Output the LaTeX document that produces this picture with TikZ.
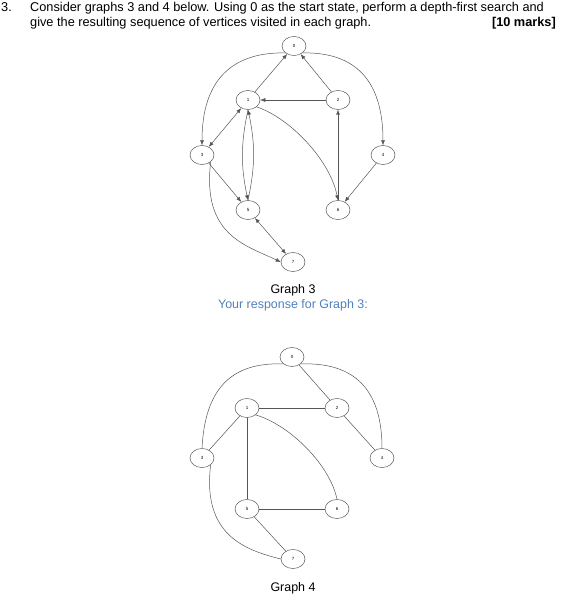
\documentclass[tikz,border=0pt]{standalone}
\usepackage{fontspec}
\setmainfont{Liberation Sans}
\usetikzlibrary{shapes.geometric,arrows.meta}
\definecolor{respblue}{RGB}{79,129,189}
\definecolor{edgegray}{RGB}{85,85,85}
\tikzset{
  vtx/.style={ellipse,draw=edgegray,line width=0.5pt,minimum width=24bp,minimum height=19bp,inner sep=0pt,font=\fontsize{4.5}{4.5}\selectfont},
  edge/.style={draw=edgegray,line width=0.5pt},
  arr/.style={edge,-{Latex[length=5bp,width=4bp]}},
  darr/.style={edge,{Latex[length=5bp,width=4bp]}-{Latex[length=5bp,width=4bp]}},
  lbl/.style={font=\fontsize{12.5}{15}\selectfont,inner sep=0pt},
  ttl/.style={font=\fontsize{12.8}{15}\selectfont,inner sep=0pt},
}
\begin{document}
\begin{tikzpicture}[x=1bp,y=-1bp]
\useasboundingbox (0,0) rectangle (578,601);
% title
\node[ttl,anchor=base west] (num) at (1,12) {3.};
\node[ttl,anchor=base west] (t1) at (30,12) {Consider graphs 3 and 4 below. Using 0 as the start state, perform a depth-first search and};
\node[ttl,anchor=base west] (t2) at (30,27) {give the resulting sequence of vertices visited in each graph.};
\node[ttl,anchor=base east] (marks) at (556,27) {\bfseries [10 marks]};
% graph 3
\node[vtx] (a0) at (294,46) {0};
\node[vtx] (a1) at (248,100) {1};
\node[vtx] (a2) at (338,100) {2};
\node[vtx] (a3) at (202,155) {3};
\node[vtx] (a4) at (383,155) {4};
\node[vtx] (a5) at (248,210) {5};
\node[vtx] (a6) at (338,210) {6};
\node[vtx] (a7) at (293,262) {7};
\draw[arr] (a1) -- (a0);
\draw[arr] (a2) -- (a0);
\draw[arr] (a2) -- (a1);
\draw[darr] (a3) -- (a1);
\draw[arr] (a3) -- (a5);
\draw[darr] (a5) -- (a7);
\draw[arr] (a4) -- (a6);
\draw[arr] (a6) -- (a2);
\draw[arr] (a1.south) to[bend right=12] (a5.north);
\draw[arr] (a5.north) to[bend right=12] (a1.south);
\draw[arr] (a0.south west) .. controls (232,52) and (202,80) .. (a3.north);
\draw[arr] (a0.south east) .. controls (355,52) and (383,80) .. (a4.north);
\draw[arr] (a1.south east) .. controls (290,118) and (330,160) .. (a6.north);
\draw[arr] (a3.south east) .. controls (202,235) and (245,245) .. (a7.west);
\node[lbl,anchor=base] (g3) at (293,293) {Graph 3};
\node[lbl,anchor=base,text=respblue] (resp) at (293,308) {Your response for Graph 3:};
% graph 4
\node[vtx] (b0) at (292,357) {0};
\node[vtx] (b1) at (247,408) {1};
\node[vtx] (b2) at (337,408) {2};
\node[vtx] (b3) at (202,458) {3};
\node[vtx] (b4) at (382,458) {4};
\node[vtx] (b5) at (247,509) {5};
\node[vtx] (b6) at (337,509) {6};
\node[vtx] (b7) at (293,559) {7};
\draw[edge] (b0) -- (b2);
\draw[edge] (b1) -- (b2);
\draw[edge] (b2) -- (b4);
\draw[edge] (b1) -- (b3);
\draw[edge] (b1) -- (b5);
\draw[edge] (b5) -- (b6);
\draw[edge] (b5) -- (b7);
\draw[edge] (b0.south west) .. controls (230,362) and (205,390) .. (b3.north);
\draw[edge] (b0.south east) .. controls (355,362) and (382,390) .. (b4.north);
\draw[edge] (b1.south east) .. controls (290,425) and (330,465) .. (b6.north);
\draw[edge] (b3.south east) .. controls (202,535) and (245,550) .. (b7.west);
\node[lbl,anchor=base] (g4) at (293,591) {Graph 4};
\end{tikzpicture}
\end{document}
